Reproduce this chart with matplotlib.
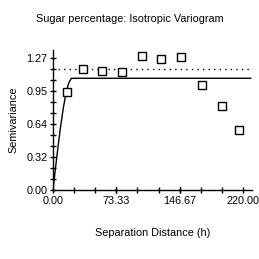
import numpy as np
import matplotlib
matplotlib.use('Agg')
import matplotlib.pyplot as plt
from matplotlib.ticker import FixedLocator, MultipleLocator

# experimental semivariogram (lag distance, semivariance)
lag_dist = [15.9, 35.1, 57.1, 79.5, 103.4, 125.4, 148.6, 172.9, 196.0, 215.7]
semivar = [0.94, 1.16, 1.145, 1.135, 1.29, 1.26, 1.28, 1.01, 0.81, 0.58]

# fitted model curve
model_dist = [0, 3, 6, 9, 12, 15, 18, 21, 22, 229]
model_gamma = [0.0, 0.219, 0.429, 0.623, 0.792, 0.929, 1.025, 1.072, 1.075, 1.075]

# sample variance (dotted line)
sample_var = 1.16
var_start, var_end = 6.0, 231.0

x_ticks = [0.0, 73.33, 146.67, 220.0]
y_ticks = [0.0, 0.3175, 0.635, 0.9525, 1.27]
y_tick_labels = ['0.00', '0.32', '0.64', '0.95', '1.27']
x_tick_labels = ['0.00', '73.33', '146.67', '220.00']

plt.rcParams['font.family'] = ['Liberation Sans', 'DejaVu Sans']

fig = plt.figure(figsize=(2.59, 2.59), dpi=100)
ax = fig.add_axes([53 / 259, 69 / 259, 199 / 259, 140 / 259])

ax.plot(model_dist, model_gamma, color='black', lw=1.0, zorder=3)
ax.hlines(sample_var, var_start, var_end, colors='black', lw=1.0,
          linestyles=(0, (1, 3)), zorder=2)
ax.plot(lag_dist, semivar, ls='none', marker='s', ms=6.0, mfc='white',
        mec='black', mew=1.0, zorder=4)

ax.set_xlim(0, 230.5)
ax.set_ylim(0, 1.347)
for side in ('top', 'right'):
    ax.spines[side].set_visible(False)
for side in ('left', 'bottom'):
    ax.spines[side].set_linewidth(1.0)

ax.xaxis.set_major_locator(FixedLocator(x_ticks))
ax.xaxis.set_minor_locator(MultipleLocator(220.0 / 9))
ax.set_xticklabels(x_tick_labels)
ax.yaxis.set_major_locator(FixedLocator(y_ticks))
ax.yaxis.set_minor_locator(MultipleLocator(1.27 / 12))
ax.set_yticklabels(y_tick_labels)
ax.tick_params(which='both', direction='inout', length=5, width=1.0,
               labelsize=7.8, pad=1.5)

ax.set_xlabel('Separation Distance (h)', fontsize=7.8, labelpad=16)
ax.set_ylabel('Semivariance', fontsize=7.8, labelpad=6)
fig.text(0.5, 1 - 19 / 259, 'Sugar percentage: Isotropic Variogram',
         ha='center', va='center', fontsize=7.8)

fig.savefig('out.png', dpi=100)
